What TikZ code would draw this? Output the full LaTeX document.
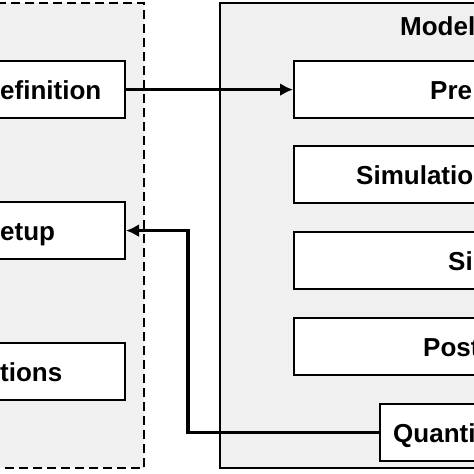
\documentclass[tikz,border=0pt]{standalone}
\usepackage{fontspec}
\setmainfont{Liberation Sans}
\usetikzlibrary{arrows.meta,positioning}
\definecolor{panelgrey}{HTML}{F0F0F0}
\tikzset{
	stepbox/.style={draw=black,line width=2.2pt,fill=white,rectangle,inner sep=0pt,minimum height=57pt},
	lbl/.style={anchor=base west,inner sep=0pt,font=\fontsize{26}{30}\selectfont\bfseries},
	flow/.style={line width=3.6pt,-{Latex[length=13pt,width=13pt]}},
}
\begin{document}
\begin{tikzpicture}[x=1pt,y=-1pt]
		\useasboundingbox (0,0) rectangle (474,474);
		\clip (0,0) rectangle (474,474);
		% the two panels
		\draw[line width=2.2pt,dash pattern=on 9pt off 5pt,fill=panelgrey] (-20,3) rectangle (144,468);
		\draw[line width=1.6pt,fill=panelgrey] (220,3) rectangle (520,468);
		\node[lbl] (model) at (400,35) {Model};
		% left boxes
		\node[stepbox,minimum width=200pt,anchor=north east] (def) at (126,60) {};
		\node[stepbox,minimum width=200pt,anchor=north east] (setup) at (126,201) {};
		\node[stepbox,minimum width=200pt,anchor=north east] (ops) at (126,342) {};
		\node[lbl] (deflbl) at (0,99) {efinition};
		\node[lbl] (setuplbl) at (0,240) {etup};
		\node[lbl] (opslbl) at (0,381) {tions};
		% right boxes
		\foreach \name/\top in {pre/60,simset/145,sim/231,post/317}
		\node[stepbox,minimum width=220pt,anchor=north west] (\name) at (293,\top) {};
		\node[stepbox,minimum width=150pt,anchor=north west] (quant) at (379,403) {};
		\node[lbl] (prelbl) at (430,99) {Pre};
		\node[lbl] (simsetlbl) at (356,184) {Simulatio};
		\node[lbl] (simlbl) at (448,270) {Si};
		\node[lbl] (postlbl) at (423,356) {Post};
		\node[lbl] (quantlbl) at (393,442) {Quanti};
		% connectors
		\coordinate (bend) at (188,0);
		\draw[flow] (def.east) -- (pre.west);
		\draw[flow] (quant.west) -- (quant.west -| bend) |- (setup.east);
	\end{tikzpicture}
\end{document}
